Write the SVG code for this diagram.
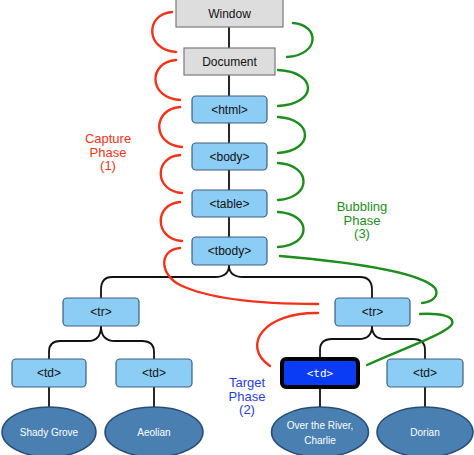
<svg xmlns="http://www.w3.org/2000/svg" width="474" height="455" viewBox="0 0 474 455">
<style>
.gray{fill:#dddddd;stroke:#7a7a7a;stroke-width:1.2}
.box{fill:#8ccdf6;stroke:#3e5f7e;stroke-width:1.2}
.ell{fill:#4a7fb2;stroke:#294d73;stroke-width:1.5}
.t{font-family:"Liberation Sans",Arial,sans-serif;font-size:12px;fill:#111;text-anchor:middle}
.et{font-family:"Liberation Sans",Arial,sans-serif;font-size:10px;fill:#ffffff;text-anchor:middle}
.lab{font-family:"Liberation Sans",Arial,sans-serif;font-size:13px;text-anchor:middle}
.con{fill:none;stroke:#111;stroke-width:1.8}
.red{fill:none;stroke:#f2331b;stroke-width:2.4;stroke-linecap:round}
.grn{fill:none;stroke:#1e8c1e;stroke-width:2.4;stroke-linecap:round}
</style>
<rect width="474" height="455" fill="#ffffff"/>
<g id="connectors">
<path class="con" d="M229,27V48M229,75V96M229,122V143M229,170V190M229,217V237"/>
<path class="con" d="M229,265 Q229,277 215,277 L112,277 Q101,277 101,290 L101,298"/>
<path class="con" d="M229,265 Q229,277 243,277 L360,277 Q372,277 372,290 L372,298"/>
<path class="con" d="M101,326 Q101,341 88,341 L60,341 Q49,341 49,352 L49,359"/>
<path class="con" d="M101,326 Q101,341 115,341 L142,341 Q154,341 154,352 L154,359"/>
<path class="con" d="M372,326 Q372,339 359,339 L332,339 Q320,339 320,350 L320,359"/>
<path class="con" d="M372,326 Q372,339 385,339 L413,339 Q425,339 425,350 L425,359"/>
<path class="con" d="M49,387V407M154,387V407M320,387V407M425,387V407"/>
</g>
<g id="capture-arcs">
<path class="red" d="M172,12 C145,14 145,50 176,52"/>
<path class="red" d="M176,60 C148,62 148,98 180,100"/>
<path class="red" d="M180,107 C152,109 152,145 182,147"/>
<path class="red" d="M180,155 C154,157 154,191 182,193"/>
<path class="red" d="M180,202 C154,204 154,239 182,241"/>
<path class="red" d="M180,248 C158,250 160,275 180,285 C205,297 250,304 318,304"/>
<path class="red" d="M318,313 C265,312 240,345 270,366"/>
</g>
<g id="bubbling-arcs">
<path class="grn" d="M287,57 C320,55 320,25 293,23"/>
<path class="grn" d="M278,70 C318,72 318,104 278,106"/>
<path class="grn" d="M278,117 C314,119 314,151 278,153"/>
<path class="grn" d="M278,163 C312,165 312,198 278,200"/>
<path class="grn" d="M278,212 C312,214 312,245 278,247"/>
<path class="grn" d="M280,256 C350,262 420,272 435,288 C440,296 432,302 422,303"/>
<path class="grn" d="M420,314 C440,313 455,316 452,324 C448,333 400,350 367,365"/>
</g>
<g id="window"><rect class="gray" x="176" y="-2" width="107" height="29"/><text class="t" x="229.5" y="18">Window</text></g>
<g id="document"><rect class="gray" x="184" y="48" width="91" height="27"/><text class="t" x="229.5" y="66">Document</text></g>
<g id="html"><rect class="box" x="192" y="96" width="75" height="27" rx="4"/><text class="t" x="229.5" y="114">&lt;html&gt;</text></g>
<g id="body"><rect class="box" x="192" y="143" width="75" height="27" rx="4"/><text class="t" x="229.5" y="161">&lt;body&gt;</text></g>
<g id="table"><rect class="box" x="192" y="190" width="75" height="27" rx="4"/><text class="t" x="229.5" y="208">&lt;table&gt;</text></g>
<g id="tbody"><rect class="box" x="192" y="237" width="75" height="28" rx="4"/><text class="t" x="229.5" y="255">&lt;tbody&gt;</text></g>
<g id="tr-left"><rect class="box" x="63" y="298" width="76" height="28" rx="4"/><text class="t" x="101" y="316">&lt;tr&gt;</text></g>
<g id="tr-right"><rect class="box" x="335" y="298" width="75" height="28" rx="4"/><text class="t" x="372.5" y="316">&lt;tr&gt;</text></g>
<g id="td-1"><rect class="box" x="12" y="359" width="74" height="28" rx="4"/><text class="t" x="49" y="377">&lt;td&gt;</text></g>
<g id="td-2"><rect class="box" x="116" y="359" width="76" height="28" rx="4"/><text class="t" x="154" y="377">&lt;td&gt;</text></g>
<g id="td-target"><rect x="282" y="359" width="76" height="28" rx="4" fill="#0a3cf5" stroke="#000" stroke-width="4"/><text x="320" y="377" font-family="DejaVu Sans Mono,monospace" font-size="11" fill="#fff" text-anchor="middle">&lt;td&gt;</text></g>
<g id="td-4"><rect class="box" x="387" y="359" width="76" height="28" rx="4"/><text class="t" x="425" y="377">&lt;td&gt;</text></g>
<g id="shady-grove"><ellipse class="ell" cx="49" cy="432" rx="47" ry="25"/><text class="et" x="49" y="435.5">Shady Grove</text></g>
<g id="aeolian"><ellipse class="ell" cx="154" cy="432" rx="49" ry="25"/><text class="et" x="154" y="435.5">Aeolian</text></g>
<g id="over-the-river"><ellipse class="ell" cx="320" cy="432" rx="48.5" ry="25"/><text class="et" x="320" y="428.5">Over the River,</text><text class="et" x="320" y="443.5">Charlie</text></g>
<g id="dorian"><ellipse class="ell" cx="425" cy="432" rx="48" ry="25"/><text class="et" x="425" y="435.5">Dorian</text></g>
<g id="capture-label" fill="#f2331b"><text class="lab" x="108" y="143">Capture</text><text class="lab" x="108" y="156.5">Phase</text><text class="lab" x="108" y="170">(1)</text></g>
<g id="bubbling-label" fill="#1e8c1e"><text class="lab" x="362" y="211">Bubbling</text><text class="lab" x="362" y="224.5">Phase</text><text class="lab" x="362" y="238">(3)</text></g>
<g id="target-label" fill="#2a3ee0"><text class="lab" x="247" y="387">Target</text><text class="lab" x="247" y="400.5">Phase</text><text class="lab" x="247" y="414">(2)</text></g>
</svg>
